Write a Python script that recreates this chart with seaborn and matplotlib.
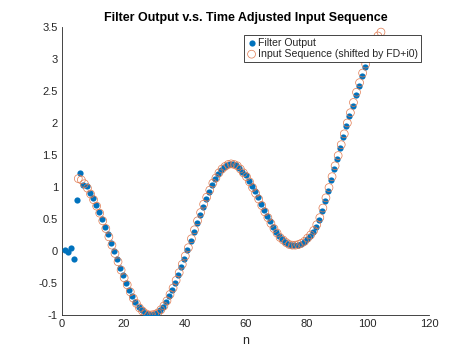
import numpy as np
import seaborn as sns
import matplotlib.pyplot as plt

# Filter output, sampled at n = 1..101
out_n = list(range(1, 102))
out_y = [0.01, -0.02, 0.05, -0.13, 0.79, 1.21, 1.03, 1.01, 0.91, 0.82,
         0.72, 0.61, 0.50, 0.38, 0.26, 0.13, 0.00, -0.13, -0.26, -0.38,
         -0.50, -0.61, -0.71, -0.80, -0.87, -0.93, -0.97, -0.99, -1.00, -0.99,
         -0.97, -0.93, -0.88, -0.80, -0.71, -0.61, -0.50, -0.38, -0.25, -0.12,
         0.01, 0.15, 0.29, 0.43, 0.56, 0.69, 0.81, 0.92, 1.03, 1.12,
         1.20, 1.26, 1.31, 1.34, 1.36, 1.36, 1.34, 1.30, 1.24, 1.18,
         1.10, 1.02, 0.93, 0.84, 0.74, 0.64, 0.55, 0.46, 0.37, 0.30,
         0.23, 0.18, 0.14, 0.11, 0.09, 0.09, 0.09, 0.11, 0.14, 0.18,
         0.24, 0.30, 0.38, 0.48, 0.62, 0.78, 0.94, 1.11, 1.28, 1.44,
         1.61, 1.78, 1.95, 2.11, 2.27, 2.43, 2.58, 2.73, 2.88, 3.02,
         3.15]

# Input sequence, shifted by FD+i0 (positions 5.3 .. 104.3)
in_n = [k + 5.3 for k in range(100)]
in_y = [1.13, 1.11, 1.05, 0.98, 0.89, 0.80, 0.70, 0.59, 0.47, 0.35,
        0.22, 0.09, -0.04, -0.17, -0.30, -0.42, -0.53, -0.64, -0.74, -0.82,
        -0.89, -0.94, -0.98, -1.00, -1.00, -0.99, -0.97, -0.92, -0.86, -0.78,
        -0.68, -0.58, -0.46, -0.34, -0.21, -0.08, 0.05, 0.19, 0.33, 0.47,
        0.60, 0.73, 0.84, 0.95, 1.06, 1.14, 1.22, 1.28, 1.32, 1.35,
        1.36, 1.35, 1.33, 1.28, 1.22, 1.16, 1.08, 0.99, 0.90, 0.81,
        0.71, 0.61, 0.52, 0.43, 0.35, 0.28, 0.21, 0.17, 0.13, 0.10,
        0.09, 0.09, 0.10, 0.12, 0.15, 0.20, 0.25, 0.32, 0.41, 0.52,
        0.67, 0.83, 0.99, 1.16, 1.33, 1.49, 1.66, 1.83, 2.00, 2.16,
        2.32, 2.48, 2.63, 2.78, 2.92, 3.06, 3.18, 3.28, 3.36, 3.42]

x_ticks = [0, 20, 40, 60, 80, 100, 120]
y_ticks = [-1, -0.5, 0, 0.5, 1, 1.5, 2, 2.5, 3, 3.5]
y_labels = ['-1', '-0.5', '0', '0.5', '1', '1.5', '2', '2.5', '3', '3.5']

sns.set_style('white')
plt.rcParams['font.family'] = ['Liberation Sans', 'DejaVu Sans']

fig = plt.figure(figsize=(4.74, 3.55), dpi=100)
ax = fig.add_axes([0.131, 0.113, 0.774, 0.811])

sns.scatterplot(x=out_n, y=out_y, ax=ax, color='#0072BD', s=20,
                linewidth=0, label='Filter Output', zorder=3)
sns.scatterplot(x=in_n, y=in_y, ax=ax, marker='o', s=32,
                facecolor='none', edgecolor='#E07A50', linewidth=0.5,
                label='Input Sequence (shifted by FD+i0)', zorder=4)

ax.set_xlim(0, 120)
ax.set_ylim(-1, 3.5)
ax.set_xticks(x_ticks)
ax.set_yticks(y_ticks)
ax.set_yticklabels(y_labels)
ax.tick_params(direction='in', length=3, width=0.6, colors='#262626',
               labelsize=8, pad=3)
for side in ['top', 'right']:
    ax.spines[side].set_visible(False)
for side in ['left', 'bottom']:
    ax.spines[side].set_color('#262626')
    ax.spines[side].set_linewidth(0.6)

ax.set_xlabel('n', fontsize=9, color='#262626', labelpad=4)
ax.set_title('Filter Output v.s. Time Adjusted Input Sequence',
             fontsize=9, fontweight='bold', color='#000000', pad=4)

leg = ax.legend(loc='upper right', bbox_to_anchor=(0.977, 0.972),
                fontsize=7.6, frameon=True, fancybox=False, framealpha=1,
                edgecolor='#262626', handletextpad=0.1, borderpad=0.25,
                labelspacing=0.12, handlelength=1.0, borderaxespad=0)
leg.get_frame().set_linewidth(0.6)

fig.savefig('out.png', dpi=100)
